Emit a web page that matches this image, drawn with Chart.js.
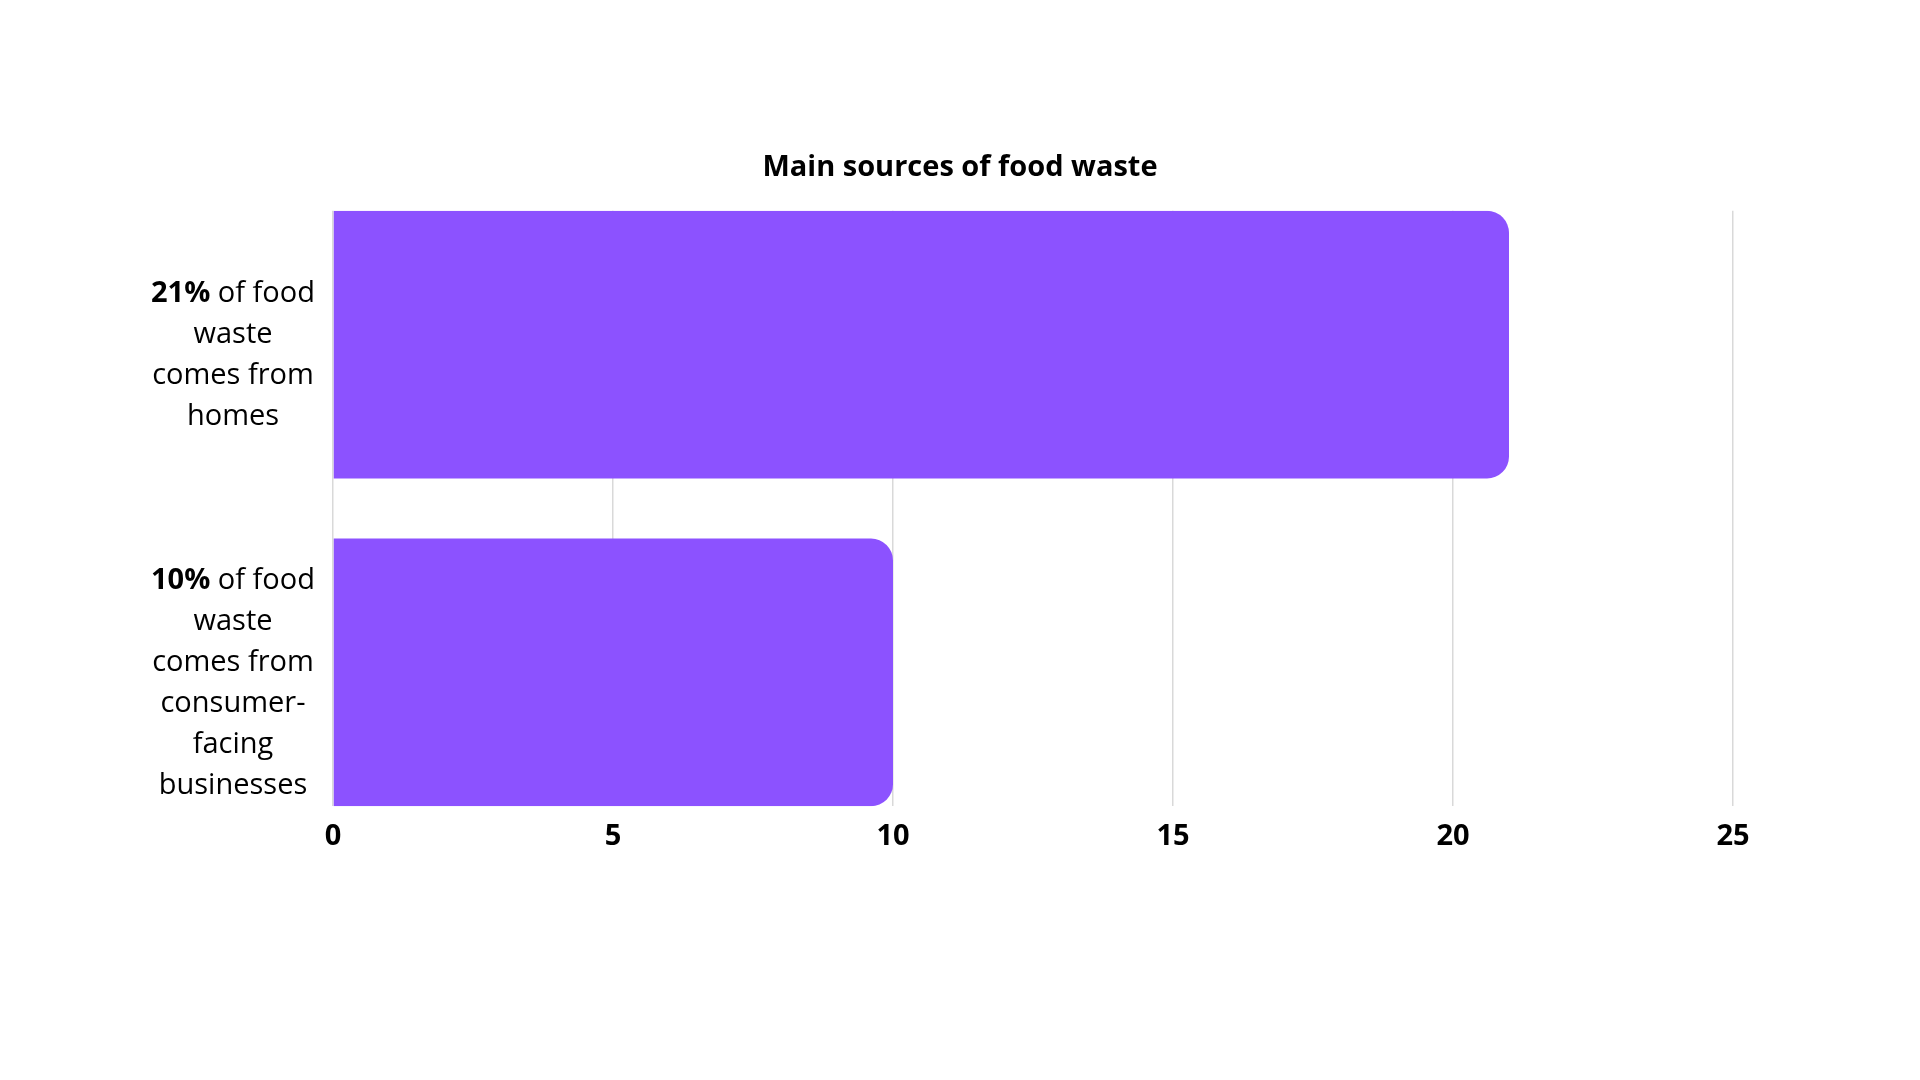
<!DOCTYPE html>
<html>
<head>
<meta charset="utf-8">
<script src="https://cdn.jsdelivr.net/npm/chart.js@4"></script>
<style>
  html, body { margin: 0; padding: 0; background: #fff; }
  #wrap { width: 1920px; height: 1080px; }
</style>
</head>
<body>
<div id="wrap"><canvas id="chart"></canvas></div>
<script>
'use strict';

// data
let labelBold = ['21%', '10%'];
let labelLines = [
  [' of food', 'waste', 'comes from', 'homes'],
  [' of food', 'waste', 'comes from', 'consumer-', 'facing', 'businesses']
];
let shares = [21, 10];
let xTicks = [0, 5, 10, 15, 20, 25];

let FONT = '"Open Sans", "Noto Sans", sans-serif';

// y labels have a bold part, so they are drawn by hand at the scale's positions
let sideLabels = {
  id: 'sideLabels',
  afterDraw(chart) {
    let ctx = chart.ctx;
    let yScale = chart.scales.y;
    let cx = 233;
    let lh = 41;
    ctx.save();
    ctx.fillStyle = '#000';
    ctx.textBaseline = 'middle';
    for (let i = 0; i < labelLines.length; i++) {
      let lines = labelLines[i];
      let y0 = yScale.getPixelForValue(i) + 11 - (lines.length - 1) * lh / 2;
      for (let j = 0; j < lines.length; j++) {
        let y = y0 + j * lh;
        if (j === 0) {
          ctx.font = 'bold 29px ' + FONT;
          let wb = ctx.measureText(labelBold[i]).width;
          ctx.font = '29px ' + FONT;
          let wr = ctx.measureText(lines[0]).width;
          let left = cx - (wb + wr) / 2;
          ctx.textAlign = 'left';
          ctx.font = 'bold 29px ' + FONT;
          ctx.fillText(labelBold[i], left, y);
          ctx.font = '29px ' + FONT;
          ctx.fillText(lines[0], left + wb, y);
        } else {
          ctx.font = '29px ' + FONT;
          ctx.textAlign = 'center';
          ctx.fillText(lines[j], cx, y);
        }
      }
    }
    ctx.restore();
  }
};

function renderChart() {
  let points = [];
  for (let i = 0; i < shares.length; i++) {
    points.push({ x: shares[i], y: i });
  }

  let chartObj = {
    type: 'bar',
    data: {
      datasets: [{
        label: 'Share of food waste',
        data: points,
        backgroundColor: '#8C52FF',
        borderRadius: 22,
        borderSkipped: 'start',
        barPercentage: 0.817,
        categoryPercentage: 1
      }]
    },
    options: {
      indexAxis: 'y',
      responsive: true,
      maintainAspectRatio: false,
      animation: false,
      layout: {
        padding: { left: 187, right: 187, top: 150, bottom: 213 }
      },
      plugins: {
        legend: { display: false },
        tooltip: { enabled: false },
        title: {
          display: true,
          text: 'Main sources of food waste',
          color: '#000',
          font: { family: FONT, size: 29, weight: 'bold' },
          padding: { top: 0, bottom: 26 }
        }
      },
      scales: {
        x: {
          type: 'linear',
          min: 0,
          max: 25,
          afterBuildTicks(scale) {
            scale.ticks = xTicks.map(v => ({ value: v }));
          },
          grid: { color: '#d9d9d9', lineWidth: 1.5, drawTicks: false },
          border: { display: false },
          ticks: {
            color: '#000',
            padding: 13,
            font: { family: FONT, size: 29, weight: 'bold' }
          }
        },
        y: {
          type: 'linear',
          reverse: true,
          offset: false,
          min: -0.4085,
          max: 1.4085,
          afterBuildTicks(scale) {
            scale.ticks = shares.map((v, i) => ({ value: i }));
          },
          afterFit(scale) {
            scale.width = 146;
          },
          grid: { display: false },
          border: { display: false },
          ticks: { display: false }
        }
      }
    },
    plugins: [sideLabels]
  };
  new Chart(document.getElementById('chart'), chartObj);
}

renderChart();
</script>
</body>
</html>
